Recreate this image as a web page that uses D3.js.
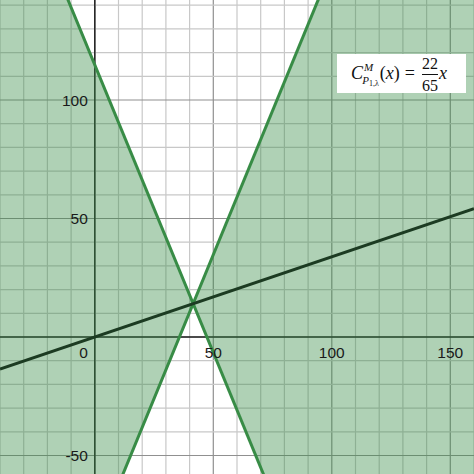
<!DOCTYPE html>
<html lang="en">
<head>
    <meta charset="UTF-8">
    <title>Cost line</title>
    <script src="https://d3js.org/d3.v7.min.js"></script>
</head>
<body>
<style>
    body{ margin: 0; background: #fff; }
    .tick-label{ font-family: "Liberation Sans", Arial, sans-serif; font-size: 15.5px; fill: #1a1a1a; }
    .math{ font-family: "Liberation Serif", "Times New Roman", serif; fill: #111; }
</style>

<script>
    // plot window
    const xDomain = [-40, 160];
    const yDomain = [-57.8, 142.2];
    const xTicks = [0, 50, 100, 150];
    const yTicks = [-50, 50, 100];

    // C(x) = 22/65 x
    const costNum = 22;
    const costDen = 65;

    // the two green boundary lines, two points each
    const downLine = [[0, 114.8], [47.3, 0]];
    const upLine = [[35.7, 0], [94.4, 142.6]];

    const W = 474, H = 474;

    const x = d3.scaleLinear().domain(xDomain).range([0, W]);
    const y = d3.scaleLinear().domain(yDomain).range([H, 0]);

    // y on a line given by two points
    function at(line, xv) {
        const [p, q] = line;
        const m = (q[1] - p[1]) / (q[0] - p[0]);
        return p[1] + m * (xv - p[0]);
    }

    let svg = d3.select("body")
        .append("svg")
        .attr("width", W)
        .attr("height", H);

    svg.append("defs").append("clipPath")
        .attr("id", "plot")
        .append("rect")
        .attr("width", W)
        .attr("height", H);

    let g = svg.append("g").attr("clip-path", "url(#plot)");

    g.append("rect").attr("width", W).attr("height", H).attr("fill", "#fff");

    // grid
    const gx = d3.range(-40, 161, 10);
    const gy = d3.range(-50, 141, 10);

    g.selectAll(".vgrid")
        .data(gx)
        .enter()
        .append("line")
        .attr("x1", d => x(d)).attr("x2", d => x(d))
        .attr("y1", 0).attr("y2", H)
        .attr("stroke", d => d % 50 === 0 ? "#909090" : "#c8c8c8")
        .attr("stroke-width", 1.2);

    g.selectAll(".hgrid")
        .data(gy)
        .enter()
        .append("line")
        .attr("y1", d => y(d)).attr("y2", d => y(d))
        .attr("x1", 0).attr("x2", W)
        .attr("stroke", d => d % 50 === 0 ? "#909090" : "#c8c8c8")
        .attr("stroke-width", 1.2);

    // axes
    g.append("line")
        .attr("x1", x(0)).attr("x2", x(0)).attr("y1", 0).attr("y2", H)
        .attr("stroke", "#222").attr("stroke-width", 1.5);
    g.append("line")
        .attr("y1", y(0)).attr("y2", y(0)).attr("x1", 0).attr("x2", W)
        .attr("stroke", "#222").attr("stroke-width", 1.5);

    // crossing point of the two green lines
    const m1 = (downLine[1][1] - downLine[0][1]) / (downLine[1][0] - downLine[0][0]);
    const m2 = (upLine[1][1] - upLine[0][1]) / (upLine[1][0] - upLine[0][0]);
    const cx = (at(upLine, 0) - at(downLine, 0)) / (m1 - m2);
    const cross = [cx, at(downLine, cx)];

    const farL = xDomain[0] - 40, farR = xDomain[1] + 40;
    const wedges = [
        [cross, [farL, at(downLine, farL)], [farL, at(upLine, farL)]],
        [cross, [farR, at(downLine, farR)], [farR, at(upLine, farR)]]
    ];

    g.selectAll(".wedge")
        .data(wedges)
        .enter()
        .append("path")
        .attr("d", d => "M" + d.map(p => x(p[0]) + "," + y(p[1])).join("L") + "Z")
        .attr("fill", "#388c46")
        .attr("fill-opacity", 0.4);

    const line = d3.line().x(d => x(d[0])).y(d => y(d[1]));

    [downLine, upLine].forEach(function(l){
        g.append("path")
            .attr("d", line([[farL, at(l, farL)], [farR, at(l, farR)]]))
            .attr("stroke", "#388c46")
            .attr("stroke-width", 3)
            .attr("fill", "none");
    });

    g.append("path")
        .attr("d", line(xDomain.map(d => [d, costNum / costDen * d])))
        .attr("stroke", "#1c3b22")
        .attr("stroke-width", 3)
        .attr("fill", "none");

    // tick labels
    svg.selectAll(".xl")
        .data(xTicks)
        .enter()
        .append("text")
        .attr("class", "tick-label")
        .attr("x", d => d === 0 ? x(d) - 7 : x(d))
        .attr("y", y(0) + 21)
        .attr("text-anchor", d => d === 0 ? "end" : "middle")
        .text(d => d);

    svg.selectAll(".yl")
        .data(yTicks)
        .enter()
        .append("text")
        .attr("class", "tick-label")
        .attr("x", x(0) - 7)
        .attr("y", d => y(d) + 5.5)
        .attr("text-anchor", "end")
        .text(d => d);

    // formula box
    let box = svg.append("g").attr("transform", "translate(337,54)");
    box.append("rect").attr("width", 129).attr("height", 39).attr("fill", "#fff");

    let t = box.append("text").attr("class", "math").attr("x", 14).attr("y", 25).attr("font-size", 18);
    t.append("tspan").attr("font-style", "italic").text("C");
    t.append("tspan").attr("font-style", "italic").attr("font-size", 11).attr("dx", 1).attr("dy", -8).text("M");
    t.append("tspan").attr("font-style", "italic").attr("font-size", 11).attr("dx", -11).attr("dy", 13).text("P");
    t.append("tspan").attr("font-size", 8).attr("dy", 2).text("1,λ");
    t.append("tspan").attr("dy", -7).attr("dx", 1).text("(");
    t.append("tspan").attr("font-style", "italic").text("x");
    t.append("tspan").text(")");
    t.append("tspan").attr("dx", 5).text("=");

    box.append("text").attr("class", "math").attr("font-size", 16)
        .attr("x", 93).attr("y", 15).attr("text-anchor", "middle").text(costNum);
    box.append("line").attr("x1", 85).attr("x2", 101).attr("y1", 20.5).attr("y2", 20.5)
        .attr("stroke", "#111").attr("stroke-width", 1);
    box.append("text").attr("class", "math").attr("font-size", 16)
        .attr("x", 93).attr("y", 36.5).attr("text-anchor", "middle").text(costDen);
    box.append("text").attr("class", "math").attr("font-size", 18).attr("font-style", "italic")
        .attr("x", 102).attr("y", 25).text("x");
</script>
</body>
</html>
